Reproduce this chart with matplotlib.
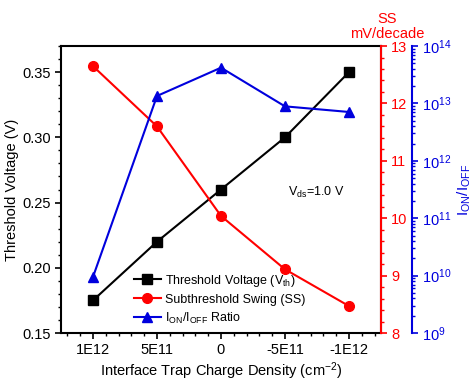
import numpy as np
import matplotlib
matplotlib.use("Agg")
import matplotlib.pyplot as plt
from matplotlib.ticker import FixedLocator, MultipleLocator, LogLocator, NullFormatter

plt.rcParams['font.family'] = ['Liberation Sans', 'DejaVu Sans']
plt.rcParams['mathtext.fontset'] = 'custom'
plt.rcParams['mathtext.rm'] = 'Liberation Sans'
plt.rcParams['mathtext.it'] = 'Liberation Sans'
plt.rcParams['mathtext.default'] = 'regular'

# data
charge_labels = ["1E12", "5E11", "0", "-5E11", "-1E12"]
vth = [0.175, 0.22, 0.26, 0.30, 0.35]
ss = [12.65, 11.6, 10.04, 9.11, 8.47]
ratio = [9.5e9, 1.35e13, 4.2e13, 8.9e12, 7.1e12]

x = np.arange(len(charge_labels))

fig = plt.figure(figsize=(4.74, 3.87), dpi=100)
ax = fig.add_axes([0.1287, 0.1395, 0.675, 0.7415])
ax2 = ax.twinx()
ax3 = ax.twinx()
ax3.spines['right'].set_position(('axes', 1.097))

l1, = ax.plot(x, vth, color='black', marker='s', ms=6.5, lw=1.5, label='Threshold Voltage (V$_{th}$)')
l2, = ax2.plot(x, ss, color='#ff0000', marker='o', ms=7, lw=1.5, label='Subthreshold Swing (SS)')
l3, = ax3.plot(x, ratio, color='#0000dd', marker='^', ms=7, lw=1.5, label='I$_{ON}$/I$_{OFF}$ Ratio')

ax.set_xlim(-0.5, 4.5)
ax.set_xticks(x)
ax.set_xticklabels(charge_labels)
ax.xaxis.set_minor_locator(FixedLocator(np.arange(-0.4, 4.5, 0.2)))
ax.set_ylim(0.15, 0.37)
ax.set_yticks([0.15, 0.20, 0.25, 0.30, 0.35])
ax.yaxis.set_minor_locator(MultipleLocator(0.01))
ax.set_xlabel('Interface Trap Charge Density (cm$^{-2}$)', fontsize=10.5, labelpad=2)
ax.set_ylabel('Threshold Voltage (V)', fontsize=10.5, labelpad=2)
ax.tick_params(axis='both', which='major', labelsize=10.5, length=4, width=1.2, direction='out')
ax.tick_params(axis='both', which='minor', length=2, width=1)

ax2.set_ylim(8, 13)
ax2.yaxis.set_minor_locator(MultipleLocator(0.2))
ax2.tick_params(axis='y', which='major', colors='#ff0000', labelsize=10.5, length=4, width=1.2)
ax2.tick_params(axis='y', which='minor', colors='#ff0000', length=2, width=1)
ax2.spines['right'].set_color('#ff0000')
ax2.text(1.02, 1.017, 'SS\nmV/decade', transform=ax.transAxes, color='#ff0000',
         fontsize=10.5, ha='center', va='bottom', linespacing=1.15)

ax3.set_yscale('log')
ax3.set_ylim(1e9, 1e14)
ax3.yaxis.set_major_locator(LogLocator(base=10, numticks=10))
ax3.yaxis.set_minor_locator(LogLocator(base=10, subs=np.arange(2, 10), numticks=10))
ax3.yaxis.set_minor_formatter(NullFormatter())
ax3.tick_params(axis='y', which='major', colors='#0000dd', labelsize=10.5, length=4, width=1.2)
ax3.tick_params(axis='y', which='minor', colors='#0000dd', length=2, width=1)
ax3.spines['right'].set_color('#0000dd')
ax3.set_ylabel('I$_{ON}$/I$_{OFF}$', color='#0000dd', fontsize=11, labelpad=3)

for a in (ax, ax2, ax3):
    for s in a.spines.values():
        s.set_linewidth(1.5)
ax2.spines['left'].set_visible(False)
ax3.spines['left'].set_visible(False)
ax2.spines['top'].set_visible(False)
ax3.spines['top'].set_visible(False)
ax2.spines['bottom'].set_visible(False)
ax3.spines['bottom'].set_visible(False)

ax.text(0.71, 0.49, 'V$_{ds}$=1.0 V', transform=ax.transAxes, fontsize=9, ha='left', va='center')

ax.legend(handles=[l1, l2, l3], loc='lower left', bbox_to_anchor=(0.2, -0.005),
          frameon=False, fontsize=9, handlelength=2.2, handletextpad=0.3,
          labelspacing=0.4, borderpad=0.2)

fig.savefig('out.png', dpi=100)
